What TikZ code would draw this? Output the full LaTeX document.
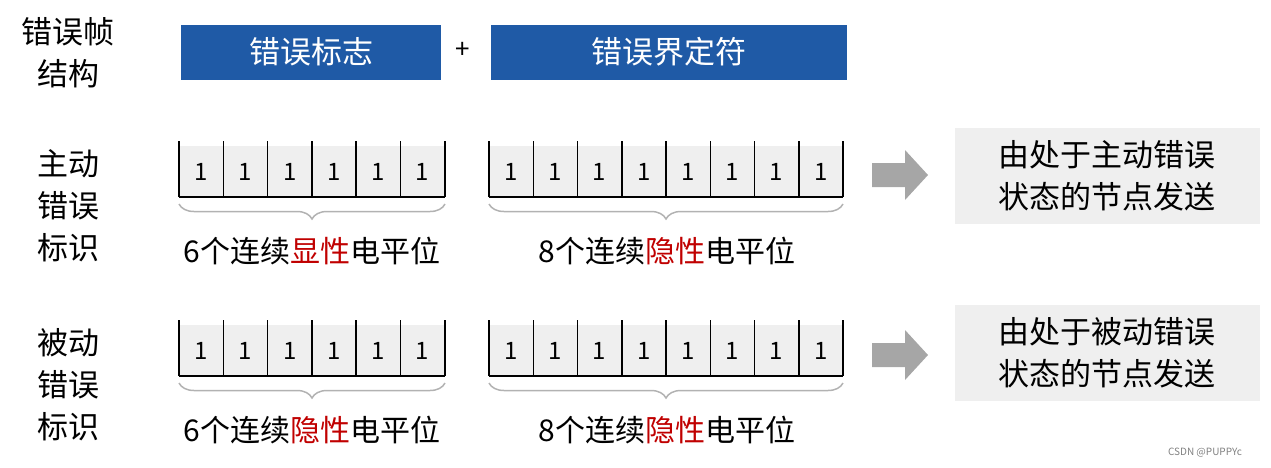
\documentclass[tikz,border=0pt]{standalone}
\usepackage{fontspec}
\setmainfont{Noto Sans CJK SC}
\usetikzlibrary{decorations.pathreplacing}
\definecolor{bluebox}{HTML}{1F5AA6}
\definecolor{cellfill}{HTML}{EFEFEF}
\definecolor{grayarrow}{HTML}{A6A6A6}
\definecolor{graybox}{HTML}{EFEFEF}
\definecolor{redtxt}{HTML}{C00000}
\tikzset{
  lbl/.style={font=\fontsize{31}{42}\selectfont, align=center},
  bluehead/.style={fill=bluebox, text=white, font=\fontsize{31}{34}\selectfont, inner sep=0pt},
  bitnum/.style={font=\fontsize{24}{26}\selectfont},
  captxt/.style={font=\fontsize{30}{34}\selectfont},
  infobox/.style={fill=graybox, inner sep=0pt},
  infotxt/.style={font=\fontsize{31}{42}\selectfont, align=left},
  bracestyle/.style={draw=gray!60, line width=1.5pt, decorate, decoration={brace, mirror, amplitude=15pt}},
  arrowshape/.style={fill=grayarrow, draw=none}
}
\begin{document}
\begin{tikzpicture}[x=1pt,y=-1pt]
\useasboundingbox (0,0) rectangle (1271,467);
\node[lbl, anchor=north] (title) at (68,14) {错误帧\\结构};
\node[bluehead, minimum width=260pt, minimum height=55pt] (flag) at (311,52) {错误标志};
\node[font=\fontsize{26}{28}\selectfont] (plus) at (463,50) {+};
\node[bluehead, minimum width=356pt, minimum height=55pt] (delim) at (669,52) {错误界定符};

\newcommand{\bitrow}[5]{% x0, n, width per cell, ytop, ybot
  \fill[cellfill] (#1,#4+5) rectangle ({#1+#2*#3},#5);
  \foreach \i in {0,...,#2}{\draw[line width=1.5pt] ({#1+\i*#3},#4) -- ({#1+\i*#3},#5);}
  \draw[line width=2pt] (#1,#5) -- ({#1+#2*#3},#5);
  \foreach \i in {1,...,#2}{\node[bitnum] at ({#1+(\i-0.5)*#3},{(#4+#5)/2+3}) {1};}
}
\newcommand{\infoarrow}[1]{%
  \fill[arrowshape] (872,#1-12) -- (905,#1-12) -- (905,#1-25) -- (928,#1) -- (905,#1+25) -- (905,#1+12) -- (872,#1+12) -- cycle;
}

% row 1
\node[lbl, anchor=north] (act) at (68,146) {主动\\错误\\标识};
\bitrow{179}{6}{44.3}{141}{197}
\bitrow{489}{8}{44.25}{141}{197}
\coordinate (b1l) at (179,204); \coordinate (b1r) at (445,204);
\coordinate (b2l) at (489,204); \coordinate (b2r) at (843,204);
\draw[bracestyle] (b1l) -- (b1r);
\draw[bracestyle] (b2l) -- (b2r);
\node[captxt] (c1) at (312,251) {6个连续\textcolor{redtxt}{显性}电平位};
\node[captxt] (c2) at (667,251) {8个连续\textcolor{redtxt}{隐性}电平位};
\infoarrow{175}
\node[infobox, minimum width=305pt, minimum height=96pt] (i1) at (1107,176) {};
\node[infotxt] at (i1) {由处于主动错误\\状态的节点发送};

% row 2
\node[lbl, anchor=north] (pas) at (68,325) {被动\\错误\\标识};
\bitrow{179}{6}{44.3}{320}{376}
\bitrow{489}{8}{44.25}{320}{376}
\coordinate (d1l) at (179,383); \coordinate (d1r) at (445,383);
\coordinate (d2l) at (489,383); \coordinate (d2r) at (843,383);
\draw[bracestyle] (d1l) -- (d1r);
\draw[bracestyle] (d2l) -- (d2r);
\node[captxt] (c3) at (312,430) {6个连续\textcolor{redtxt}{隐性}电平位};
\node[captxt] (c4) at (667,430) {8个连续\textcolor{redtxt}{隐性}电平位};
\infoarrow{355}
\node[infobox, minimum width=305pt, minimum height=96pt] (i2) at (1107,353) {};
\node[infotxt] at (i2) {由处于被动错误\\状态的节点发送};

\node[font=\fontsize{10}{12}\selectfont, text=gray] (wm) at (1205,453) {CSDN @PUPPYc};
\end{tikzpicture}
\end{document}
